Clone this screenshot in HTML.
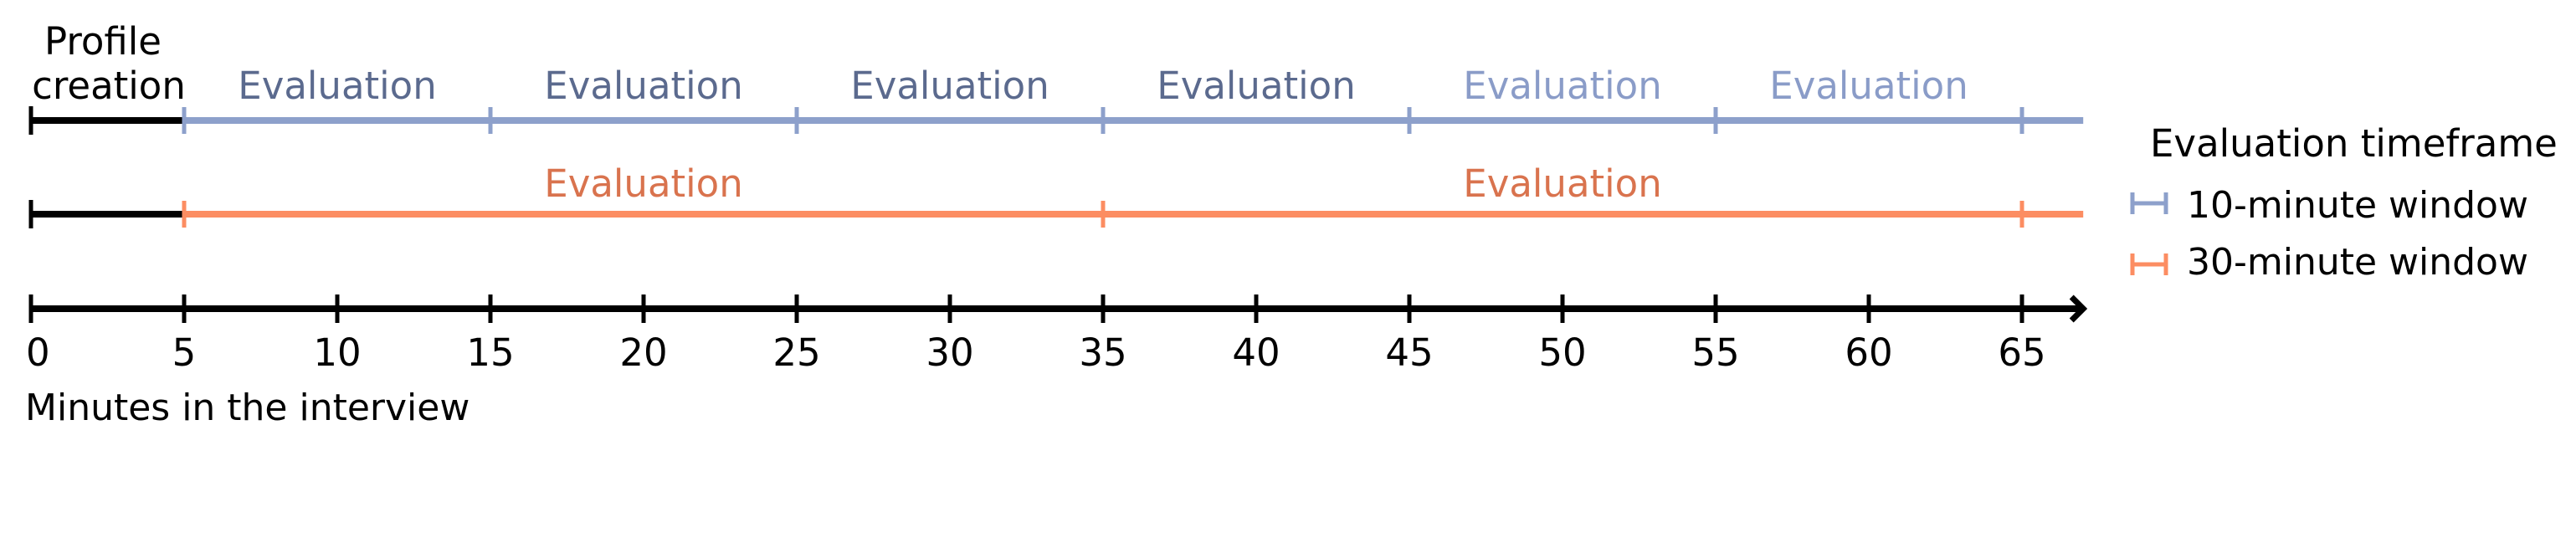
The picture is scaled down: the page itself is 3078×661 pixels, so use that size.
<!DOCTYPE html>
<html><head><meta charset="utf-8"><style>
html,body{margin:0;padding:0;background:#fff;}
svg{display:block;font-family:"DejaVu Sans","Liberation Sans",sans-serif;}
</style></head><body>
<svg id="chart" width="3078" height="661" viewBox="0 0 3078 661" xmlns="http://www.w3.org/2000/svg">
<g id="plot"></g>
<g id="legend">
  <text x="2569" y="187" font-size="45" fill="#000">Evaluation timeframe</text>
  <g>
    <path d="M2548 243 H2588 M2548 230 V256 M2588 230 V256" stroke="#8da0cb" stroke-width="5" fill="none"/>
    <text x="2613" y="260" font-size="44" fill="#000">10-minute window</text>
  </g>
  <g>
    <path d="M2548 316 H2588 M2548 303 V329 M2588 303 V329" stroke="#fc8d62" stroke-width="5" fill="none"/>
    <text x="2613" y="328" font-size="44" fill="#000">30-minute window</text>
  </g>
</g>
</svg>
<script>
const axisTicks = [0,5,10,15,20,25,30,35,40,45,50,55,60,65];
const tickLabels = ["0","5","10","15","20","25","30","35","40","45","50","55","60","65"];
const profileEnd = 5;
const tenMinBounds = [5,15,25,35,45,55,65];
const thirtyMinBounds = [5,35,65];
const tenLabelColors = ["#5b6a8e","#5b6a8e","#5b6a8e","#5b6a8e","#8a9cc8","#8a9cc8"];
const axisMax = 67;

const NS = "http://www.w3.org/2000/svg";
const plot = document.getElementById('plot');
const x = m => 37 + m * 36.6;
const yBlue = 144, yOrange = 256, yAxis = 369;
function el(tag, attrs, parent){
  const e = document.createElementNS(NS, tag);
  for (const k in attrs) e.setAttribute(k, attrs[k]);
  (parent || plot).appendChild(e);
  return e;
}
function txt(s, attrs){ const t = el('text', attrs); t.textContent = s; return t; }

// Profile rows (black)
[yBlue, yOrange].forEach((y, i) => {
  const g = el('g', {});
  
  
  el('line', {x1:x(0), x2:x(profileEnd), y1:y, y2:y, stroke:'#000', 'stroke-width':8}, g);
  el('line', {x1:x(0), x2:x(0), y1:y-17, y2:y+17, stroke:'#000', 'stroke-width':5}, g);
});

// 10-minute row
const blueLine = el('line', {x1:x(tenMinBounds[0]), x2:x(axisMax), y1:yBlue, y2:yBlue, stroke:'#8da0cb', 'stroke-width':8});


tenMinBounds.forEach(b => {
  const t = el('line', {x1:x(b), x2:x(b), y1:yBlue-16, y2:yBlue+16, stroke:'#8da0cb', 'stroke-width':5});
  
  
});
for (let i = 0; i < tenMinBounds.length - 1; i++) {
  const t = txt('Evaluation', {x:(x(tenMinBounds[i])+x(tenMinBounds[i+1]))/2, y:118, 'font-size':45, 'text-anchor':'middle', fill:tenLabelColors[i]});
  
  
}

// 30-minute row
const orLine = el('line', {x1:x(thirtyMinBounds[0]), x2:x(axisMax), y1:yOrange, y2:yOrange, stroke:'#fc8d62', 'stroke-width':8});


thirtyMinBounds.forEach(b => {
  const t = el('line', {x1:x(b), x2:x(b), y1:yOrange-16, y2:yOrange+16, stroke:'#fc8d62', 'stroke-width':5});
  
  
});
for (let i = 0; i < thirtyMinBounds.length - 1; i++) {
  const t = txt('Evaluation', {x:(x(thirtyMinBounds[i])+x(thirtyMinBounds[i+1]))/2, y:235, 'font-size':45, 'text-anchor':'middle', fill:'#d9734e'});
  
  
}

// Axis
const axis = el('line', {x1:x(0), x2:x(axisMax)-4, y1:yAxis, y2:yAxis, stroke:'#000', 'stroke-width':8});


const arrow = el('path', {d:`M${x(axisMax)-14} ${yAxis-14} L${x(axisMax)} ${yAxis} L${x(axisMax)-14} ${yAxis+14}`, stroke:'#000', 'stroke-width':7, fill:'none'});


axisTicks.forEach((m, i) => {
  const t = el('line', {x1:x(m), x2:x(m), y1:yAxis-17, y2:yAxis+17, stroke:'#000', 'stroke-width':5});
  
  
  const l = txt(tickLabels[i], {x:x(m)+ (i===0?-6:0), y:437, 'font-size':45, 'text-anchor': i===0 ? 'start' : 'middle', fill:'#000'});
  
  
});
const xt = txt('Minutes in the interview', {x:30, y:502, 'font-size':44, fill:'#000'});


const p1 = txt('Profile', {x:123, y:65, 'font-size':45, 'text-anchor':'middle', fill:'#000'});


const p2 = txt('creation', {x:130, y:118, 'font-size':45, 'text-anchor':'middle', fill:'#000'});


</script>
</body></html>
